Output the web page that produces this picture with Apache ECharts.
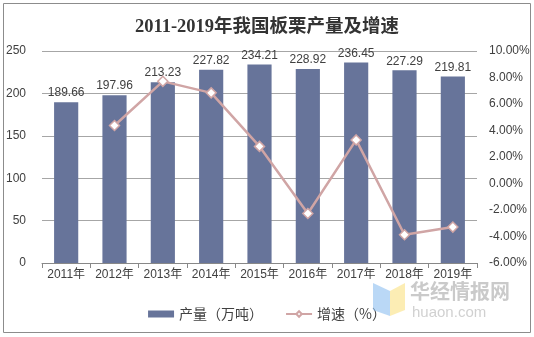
<!DOCTYPE html>
<html>
<head>
<meta charset="utf-8">
<script src="https://cdn.jsdelivr.net/npm/echarts@6/dist/echarts.min.js"></script>
<style>
  html, body { margin: 0; padding: 0; background: #fff; }
  #c_container { width: 534px; height: 337px; }
</style>
</head>
<body>
<div id="c_container"></div>
<script>
var years = ["2011年", "2012年", "2013年", "2014年", "2015年", "2016年", "2017年", "2018年", "2019年"];
var output = [189.66, 197.96, 213.23, 227.82, 234.21, 228.92, 236.45, 227.29, 219.81];
var growth = [null, 4.38, 7.71, 6.84, 2.8, -2.26, 3.29, -3.87, -3.29];

var barColor = "#67749a";
var lineColor = "#d0a5a5";
var txtColor = "#404040";
var font_size = 12;

var myChart = echarts.init(document.getElementById("c_container"));
myChart.setOption({
  animation: false,
  title: {
    text: "2011-2019年我国板栗产量及增速",
    left: "center",
    top: 13,
    textStyle: {
      fontFamily: "Liberation Serif, Noto Sans CJK SC",
      fontWeight: "bold",
      fontSize: 18.5,
      color: "#333"
    }
  },
  grid: { left: 42, right: 57, top: 51, bottom: 74 },
  legend: {
    bottom: 11,
    left: "center",
    itemGap: 22,
    textStyle: { color: txtColor, fontSize: 14, fontFamily: "Noto Sans CJK SC" },
    data: [
      { name: "产量（万吨）", icon: "rect", itemStyle: { color: barColor } },
      { name: "增速（%）" }
    ],
    itemWidth: 26,
    itemHeight: 7
  },
  xAxis: [{
    type: "category",
    data: years,
    axisLine: { lineStyle: { color: "#888" } },
    axisTick: { show: true, alignWithLabel: false, length: 5, lineStyle: { color: "#888" } },
    axisLabel: { color: txtColor, fontSize: font_size, interval: 0, margin: 6, fontFamily: "Liberation Sans, Noto Sans CJK SC" }
  }],
  yAxis: [
    {
      type: "value",
      min: 0,
      max: 250,
      interval: 50,
      axisLine: { show: false },
      axisTick: { show: false },
      splitLine: { lineStyle: { color: "#a6a6a6" } },
      axisLabel: { color: txtColor, fontSize: font_size, margin: 16, fontFamily: "Liberation Sans" }
    },
    {
      type: "value",
      min: -6,
      max: 10,
      interval: 2,
      axisLine: { show: false },
      axisTick: { show: false },
      splitLine: { show: false },
      axisLabel: {
        color: txtColor,
        fontSize: font_size,
        margin: 12,
        fontFamily: "Liberation Sans",
        formatter: function (v) { return v.toFixed(2) + "%"; }
      }
    }
  ],
  series: [
    {
      name: "产量（万吨）",
      type: "bar",
      barWidth: "50%",
      data: output,
      itemStyle: { color: barColor },
      label: {
        show: true,
        position: "top",
        distance: 3,
        color: txtColor,
        fontSize: font_size,
        fontFamily: "Liberation Sans"
      }
    },
    {
      name: "增速（%）",
      type: "line",
      yAxisIndex: 1,
      data: growth,
      symbol: "diamond",
      symbolSize: 10,
      itemStyle: { color: "#fff", borderColor: lineColor, borderWidth: 1.5 },
      lineStyle: { color: lineColor, width: 2.5 }
    }
  ],
  graphic: [
    {
      type: "rect",
      shape: { x: 3.5, y: 3.5, width: 527, height: 329 },
      style: { fill: null, stroke: "#8c8c8c", lineWidth: 1 },
      silent: true
    },
    {
      type: "polygon",
      shape: { points: [[373, 283], [390, 291], [390, 316], [373, 310]] },
      style: { fill: "rgba(140,190,240,0.6)" },
      z: 100
    },
    {
      type: "polygon",
      shape: { points: [[390, 291], [405, 283], [405, 310], [390, 316]] },
      style: { fill: "rgba(250,225,130,0.6)" },
      z: 100
    },
    {
      type: "text",
      left: 410,
      top: 281,
      style: { text: "华经情报网", fill: "rgba(150,150,150,0.5)", font: "bold 20px Noto Sans CJK SC" },
      z: 100
    },
    {
      type: "text",
      left: 412,
      top: 305,
      style: { text: "huaon.com", fill: "rgba(150,150,150,0.45)", font: "15px Liberation Sans" },
      z: 100
    }
  ]
});
</script>
</body>
</html>
